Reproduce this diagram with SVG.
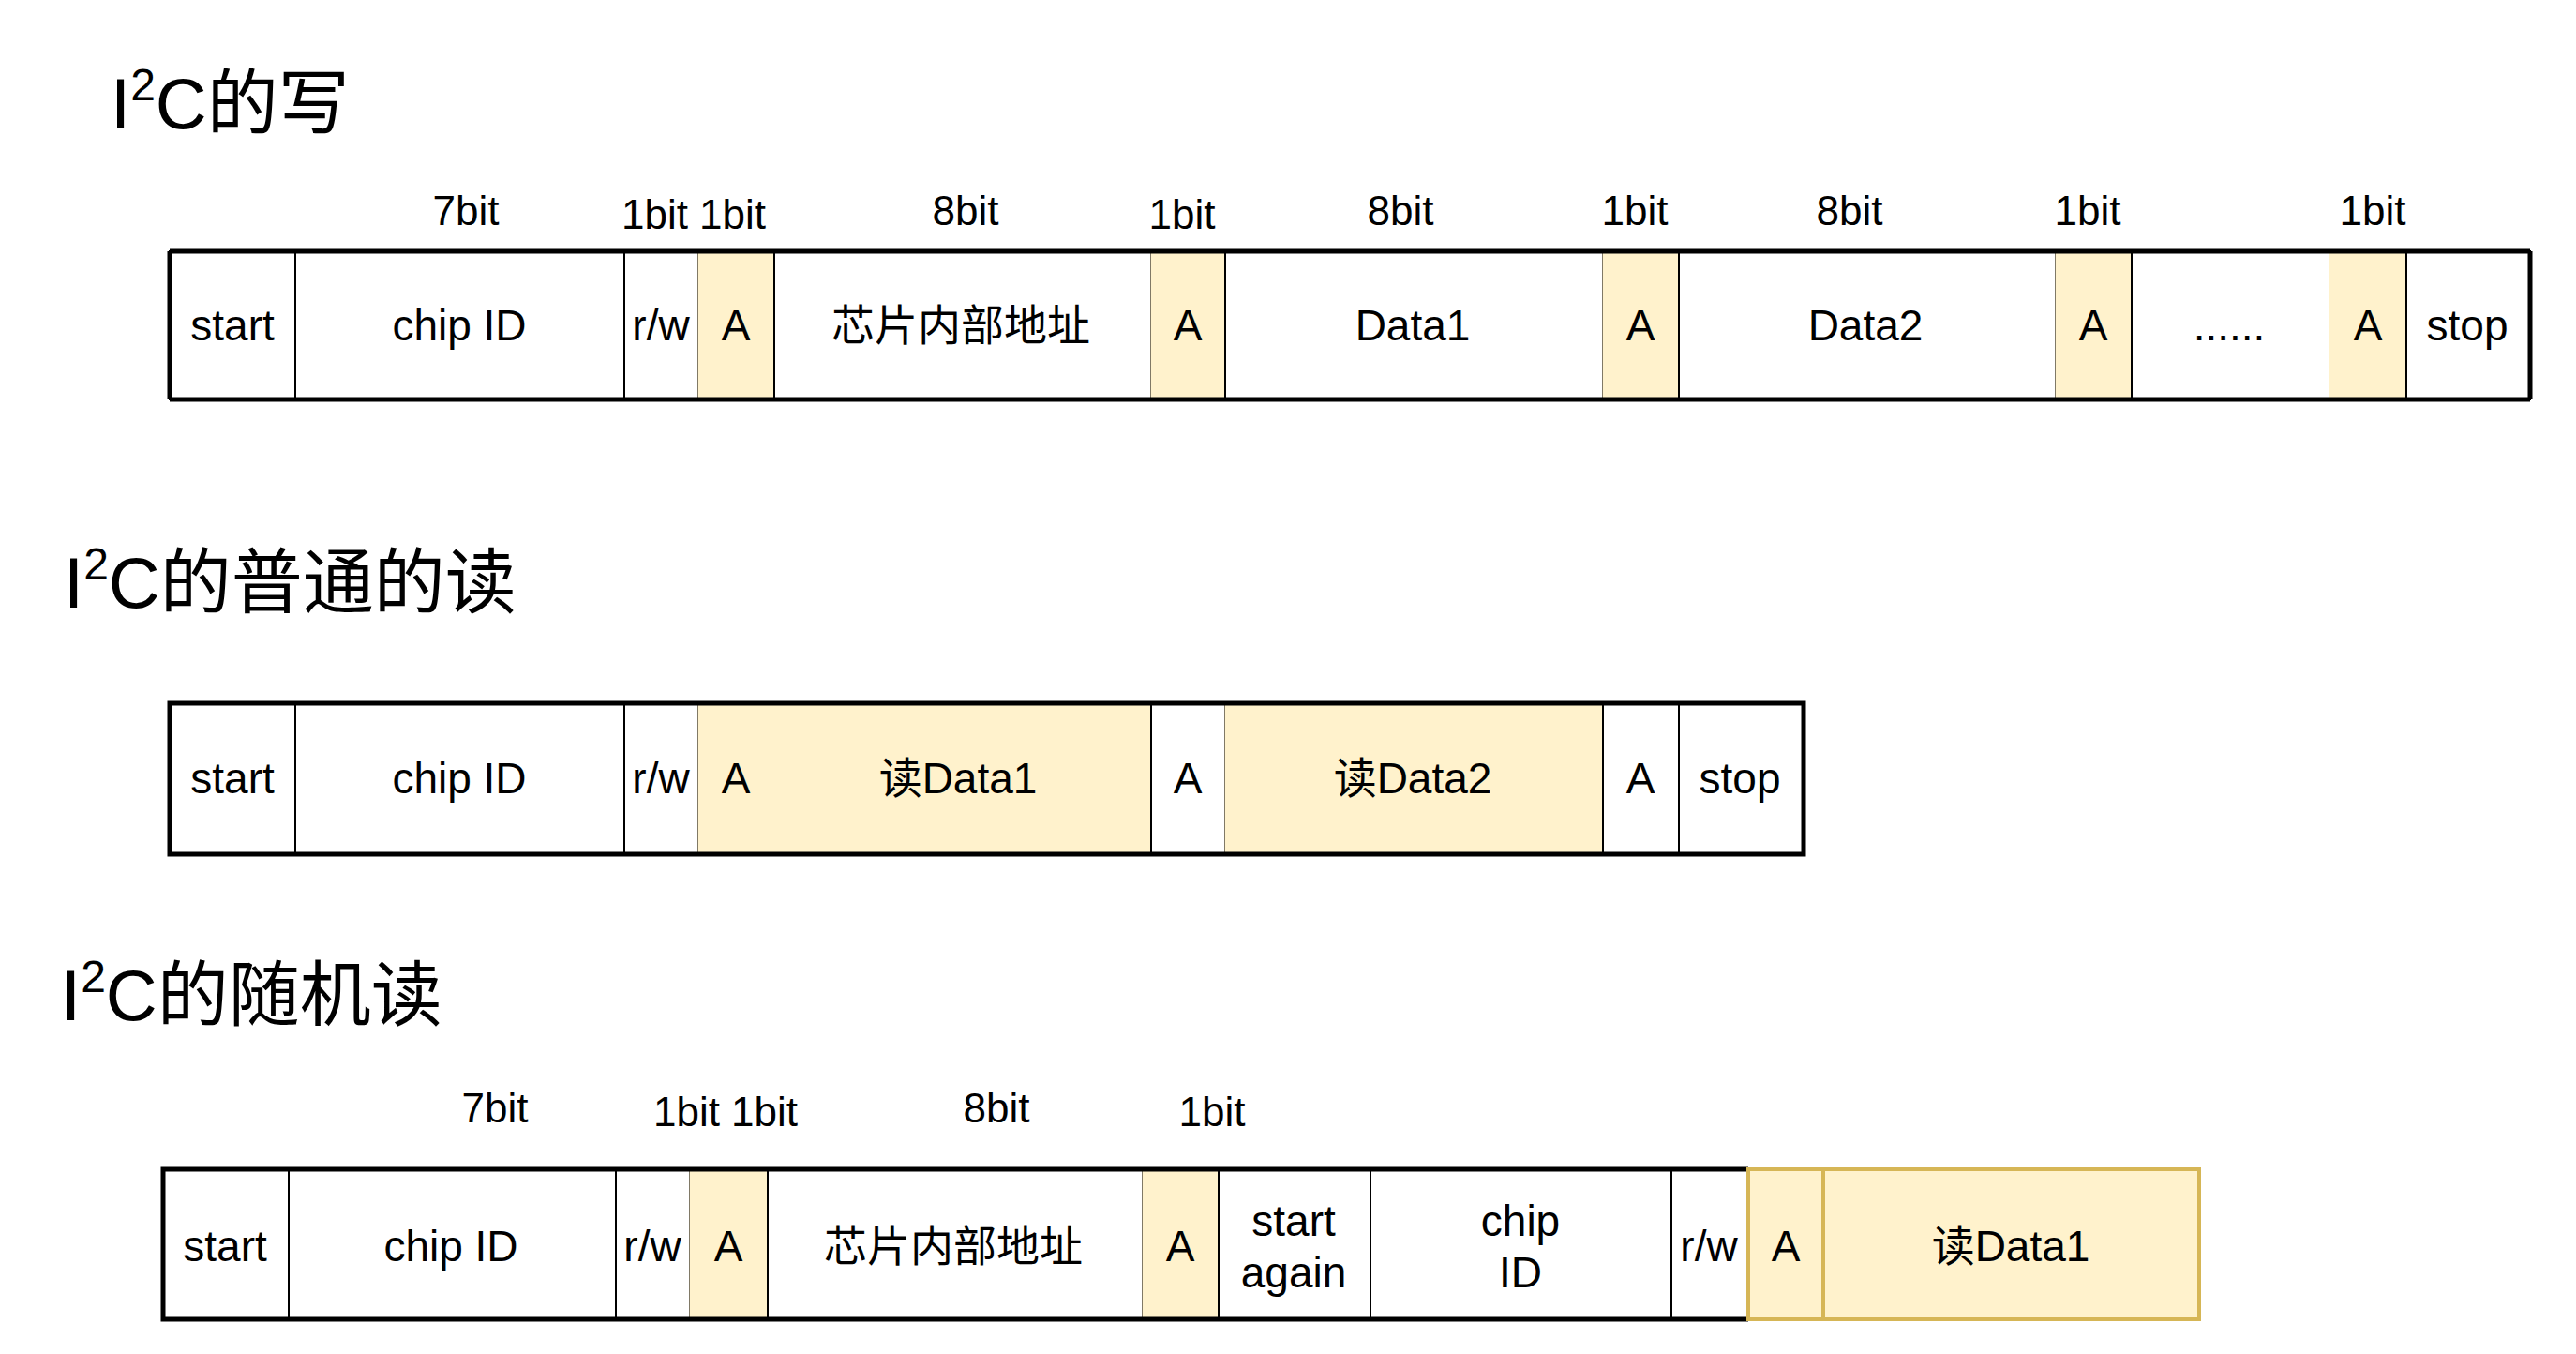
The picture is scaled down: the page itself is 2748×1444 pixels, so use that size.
<svg xmlns="http://www.w3.org/2000/svg" width="2748" height="1444" viewBox="0 0 2748 1444">
<style>
text{font-family:"Liberation Sans","Noto Sans CJK SC",sans-serif;fill:#000}
.t{font-size:76px}
.c{font-size:46px;text-anchor:middle;dominant-baseline:central}
.l{font-size:44px;text-anchor:middle}
.w{fill:#fff;stroke:#000;stroke-width:2}
.y{fill:#fff2cc;stroke:#fff2cc;stroke-width:1}
.o{fill:none;stroke:#000;stroke-width:5}
.g{fill:#fff2cc;stroke:#d6b656;stroke-width:4}
</style>
<rect width="2748" height="1444" fill="#fff"/>
<text class="t" x="118" y="137">I<tspan font-size="48" dy="-30">2</tspan><tspan dy="30">C的写</tspan></text>
<text class="t" x="68" y="648">I<tspan font-size="48" dy="-30">2</tspan><tspan dy="30">C的普通的读</tspan></text>
<text class="t" x="65" y="1088">I<tspan font-size="48" dy="-30">2</tspan><tspan dy="30">C的随机读</tspan></text>
<g id="labels1">
<text class="l" x="497" y="240">7bit</text>
<text class="l" x="740" y="244">1bit 1bit</text>
<text class="l" x="1030" y="240">8bit</text>
<text class="l" x="1261" y="244">1bit</text>
<text class="l" x="1494" y="240">8bit</text>
<text class="l" x="1744" y="240">1bit</text>
<text class="l" x="1973" y="240">8bit</text>
<text class="l" x="2227" y="240">1bit</text>
<text class="l" x="2531" y="240">1bit</text>
</g>
<g id="row1">
<rect class="w" x="181" y="268" width="134" height="158"/><text class="c" x="248" y="347">start</text>
<rect class="w" x="315" y="268" width="351" height="158"/><text class="c" x="490" y="347">chip ID</text>
<rect class="w" x="666" y="268" width="79" height="158"/><text class="c" x="705" y="347">r/w</text>
<rect class="y" x="745" y="268" width="81" height="158"/><text class="c" x="785" y="347">A</text>
<rect class="w" x="826" y="268" width="402" height="158"/><text class="c" x="1025" y="347">芯片内部地址</text>
<rect class="y" x="1228" y="268" width="79" height="158"/><text class="c" x="1267" y="347">A</text>
<rect class="w" x="1307" y="268" width="403" height="158"/><text class="c" x="1507" y="347">Data1</text>
<rect class="y" x="1710" y="268" width="81" height="158"/><text class="c" x="1750" y="347">A</text>
<rect class="w" x="1791" y="268" width="402" height="158"/><text class="c" x="1990" y="347">Data2</text>
<rect class="y" x="2193" y="268" width="81" height="158"/><text class="c" x="2233" y="347">A</text>
<rect class="w" x="2274" y="268" width="211" height="158"/><text class="c" x="2378" y="347">......</text>
<rect class="y" x="2485" y="268" width="82" height="158"/><text class="c" x="2526" y="347">A</text>
<rect class="w" x="2567" y="268" width="132" height="158"/><text class="c" x="2632" y="347">stop</text>
<path class="o" d="M181 268H2699M181 426H2699M181 268V426M2699 268V426"/>
</g>
<g id="row2">
<rect class="w" x="181" y="750" width="134" height="161"/><text class="c" x="248" y="830">start</text>
<rect class="w" x="315" y="750" width="351" height="161"/><text class="c" x="490" y="830">chip ID</text>
<rect class="w" x="666" y="750" width="79" height="161"/><text class="c" x="705" y="830">r/w</text>
<rect class="y" x="745" y="750" width="483" height="161"/><text class="c" x="785" y="830">A</text><text class="c" x="1022" y="830">读Data1</text>
<rect class="w" x="1228" y="750" width="79" height="161"/><text class="c" x="1267" y="830">A</text>
<rect class="y" x="1307" y="750" width="403" height="161"/><text class="c" x="1507" y="830">读Data2</text>
<rect class="w" x="1710" y="750" width="81" height="161"/><text class="c" x="1750" y="830">A</text>
<rect class="w" x="1791" y="750" width="133" height="161"/><text class="c" x="1856" y="830">stop</text>
<path class="o" d="M181 750H1924V911H181Z"/>
</g>
<g id="labels3">
<text class="l" x="528" y="1197">7bit</text>
<text class="l" x="774" y="1201">1bit 1bit</text>
<text class="l" x="1063" y="1197">8bit</text>
<text class="l" x="1293" y="1201">1bit</text>
</g>
<g id="row3">
<rect class="w" x="174" y="1247" width="134" height="160"/><text class="c" x="240" y="1329">start</text>
<rect class="w" x="308" y="1247" width="349" height="160"/><text class="c" x="481" y="1329">chip ID</text>
<rect class="w" x="657" y="1247" width="79" height="160"/><text class="c" x="696" y="1329">r/w</text>
<rect class="y" x="736" y="1247" width="83" height="160"/><text class="c" x="777" y="1329">A</text>
<rect class="w" x="819" y="1247" width="400" height="160"/><text class="c" x="1017" y="1329">芯片内部地址</text>
<rect class="y" x="1219" y="1247" width="81" height="160"/><text class="c" x="1259" y="1329">A</text>
<rect class="w" x="1300" y="1247" width="162" height="160"/><text class="c" x="1380" y="1302">start</text><text class="c" x="1380" y="1357">again</text>
<rect class="w" x="1462" y="1247" width="321" height="160"/><text class="c" x="1622" y="1302">chip</text><text class="c" x="1622" y="1357">ID</text>
<rect class="w" x="1783" y="1247" width="82" height="160"/><text class="c" x="1823" y="1329">r/w</text>
<path class="o" d="M1865 1247H174V1407H1865"/>
<rect class="g" x="1865" y="1247" width="80" height="160"/><text class="c" x="1905" y="1329">A</text>
<rect class="g" x="1945" y="1247" width="401" height="160"/><text class="c" x="2145" y="1329">读Data1</text>
</g>
</svg>
